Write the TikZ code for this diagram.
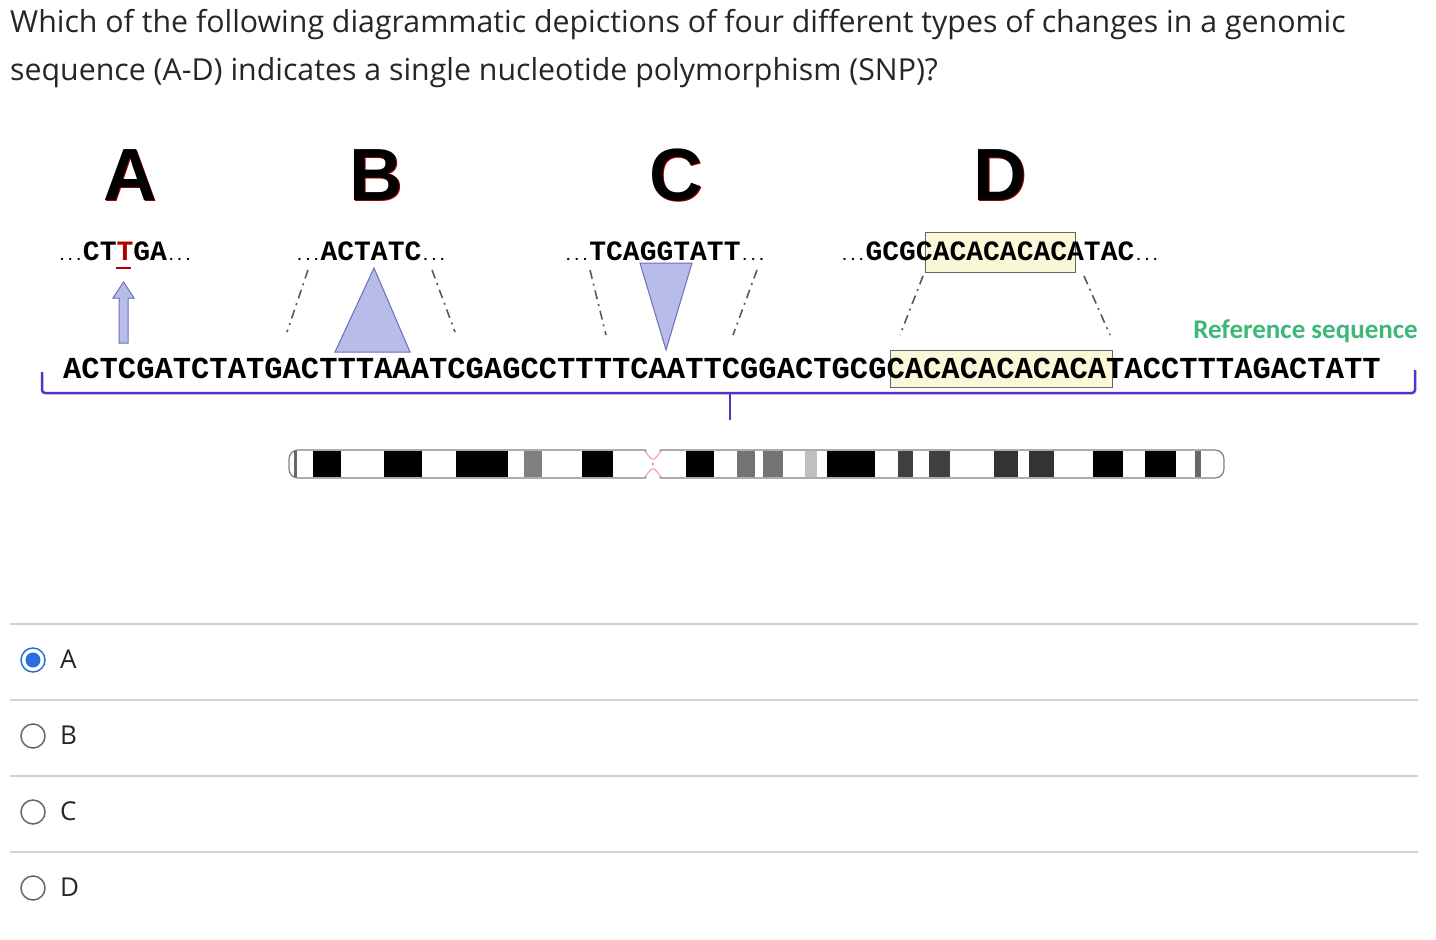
\documentclass[tikz,border=0pt]{standalone}
\usepackage{fontspec}
\setmainfont{Liberation Sans}
\newfontfamily\qfont{Open Sans}
\newfontfamily\seqfont{Liberation Mono}
\newfontfamily\reffont{Carlito}
\usetikzlibrary{arrows.meta}
\definecolor{tri}{HTML}{B8BCE8}
\definecolor{triedge}{HTML}{6A70B8}
\definecolor{boxfill}{HTML}{FAF8D8}
\definecolor{brace}{HTML}{5A2FC8}
\definecolor{refgreen}{HTML}{3DB878}
\definecolor{sep}{HTML}{D0D0D0}
\definecolor{radio}{HTML}{2A6FE0}
\tikzset{
  qtext/.style={anchor=west,inner sep=0,font=\fontsize{30.3}{34}\qfont,text=black!85},
  biglet/.style={inner sep=0,font=\fontsize{74}{80}\selectfont\bfseries},
  seq/.style={inner sep=0,font=\fontsize{30.5}{34}\selectfont\seqfont\bfseries},
  sseq/.style={inner sep=0,font=\fontsize{28}{32}\selectfont\seqfont\bfseries},
  dline/.style={dash pattern=on 9pt off 5pt on 2pt off 5pt,line width=1.6pt,draw=black!65},
  opt/.style={anchor=west,inner sep=0,font=\fontsize{26}{30}\qfont,text=black!85},
  radiobox/.style={circle,draw=black!60,line width=1.5pt,minimum size=24pt,inner sep=0}
}
\begin{document}
\begin{tikzpicture}[x=1pt,y=-1pt]
\useasboundingbox[fill=white] (0,0) rectangle (1436,940);
\node[qtext] (q1) at (10,25) {Which of the following diagrammatic depictions of four different types of changes in a genomic};
\node[qtext] (q2) at (10,73) {sequence (A-D) indicates a single nucleotide polymorphism (SNP)?};
% big letters
\foreach \n/\x/\l in {la/130/A,lb/376/B,lc/676/C,ld/1000/D}{
  \node[biglet,text=red!60!black] at (\x+1.5,176.5) {\l};
  \node[biglet] (\n) at (\x,175) {\l};
}
% D boxes
\node[draw=black!60,fill=boxfill,line width=1pt,minimum width=150pt,minimum height=40pt,inner sep=0] (dbox) at (1000,252) {};
\node[draw=black!60,fill=boxfill,line width=1pt,minimum width=222pt,minimum height=37pt,inner sep=0] (mbox) at (1001,368.5) {};
% small sequences
\node[sseq] (sa) at (125,251) {\fontsize{14}{14}\selectfont...\fontsize{28}{32}\selectfont CT\textcolor{red!70!black}{T}GA\fontsize{14}{14}\selectfont...};
\node[sseq] (sb) at (371,251) {\fontsize{14}{14}\selectfont...\fontsize{28}{32}\selectfont ACTATC\fontsize{14}{14}\selectfont...};
\node[sseq] (sc) at (665,251) {\fontsize{14}{14}\selectfont...\fontsize{28}{32}\selectfont TCAGGTATT\fontsize{14}{14}\selectfont...};
\node[sseq] (sd) at (1000,251) {\fontsize{14}{14}\selectfont...\fontsize{28}{32}\selectfont GCGCACACACACATAC\fontsize{14}{14}\selectfont...};
\draw[red!70!black,line width=2.5pt] (116,268) -- (131,268);
% main sequence
\node[seq] (ms) at (722,368) {ACTCGATCTATGACTTTAAATCGAGCCTTTTCAATTCGGACTGCGCACACACACACATACCTTTAGACTATT};
\node[inner sep=0,anchor=east,font=\fontsize{27}{30}\selectfont\reffont\bfseries,text=refgreen] (ref) at (1418,331) {Reference sequence};
% A arrow
\draw[draw=triedge,fill=tri,line width=1pt] (119,343) -- (119,298) -- (113,298) -- (123.5,282) -- (134,298) -- (128,298) -- (128,343) -- cycle;
% B
\draw[draw=triedge,fill=tri,line width=1pt] (374,268) -- (410,352) -- (335,352) -- cycle;
\draw[dline] (308,270) -- (287,332);
\draw[dline] (432,270) -- (455,332);
% C
\draw[draw=triedge,fill=tri,line width=1pt] (640,263) -- (692,263) -- (666,350) -- cycle;
\draw[dline] (590,270) -- (606,335);
\draw[dline] (757,270) -- (733,335);
% D
\draw[dline] (923,276) -- (900,335);
\draw[dline] (1084,276) -- (1110,335);
% brace
\draw[brace,line width=2.5pt,rounded corners=3pt] (42,372) -- (42,393) -- (1415,393) -- (1415,370);
\coordinate (bt) at (730,393);
\coordinate (bb) at (730,420);
\draw[brace,line width=2.5pt] (bt) -- (bb);
% chromosome
\draw[black!50,line width=1.2pt,fill=white,rounded corners=9pt] (289,450) rectangle (653,478);
\draw[black!50,line width=1.2pt,fill=white,rounded corners=9pt] (653,450) rectangle (1224,478);
\foreach \a/\b/\c in {313/341/black,384/422/black,456/508/black,524/542/black!50,582/613/black,
 686/714/black,737/755/black!55,763/783/black!55,805/817/black!25,827/875/black,898/913/black!75,929/950/black!75,
 994/1018/black!80,1029/1054/black!80,1093/1123/black,1145/1176/black,1195/1201/black!60,294/297/black!60}{
  \fill[\c] (\a,451) rectangle (\b,477);
}
\fill[white] (646,449) -- (660,449) -- (653,464) -- cycle;
\fill[white] (646,479) -- (660,479) -- (653,464) -- cycle;
\draw[red!40,line width=1pt] (645,451) .. controls (653,462) .. (661,451);
\draw[red!40,line width=1pt] (645,477) .. controls (653,466) .. (661,477);
% options
\foreach \y in {624,700,776,852}{ \draw[sep,line width=1.2pt] (10,\y) -- (1418,\y); }
\node[radiobox,draw=radio] (r1) at (33,660) {};
\fill[radio] (r1) circle (7.5pt);
\node[radiobox] (r2) at (33,736) {};
\node[radiobox] (r3) at (33,812) {};
\node[radiobox] (r4) at (33,888) {};
\node[opt] (o1) at (60,659) {A};
\node[opt] (o2) at (60,735) {B};
\node[opt] (o3) at (60,811) {C};
\node[opt] (o4) at (60,887) {D};
\end{tikzpicture}
\end{document}
